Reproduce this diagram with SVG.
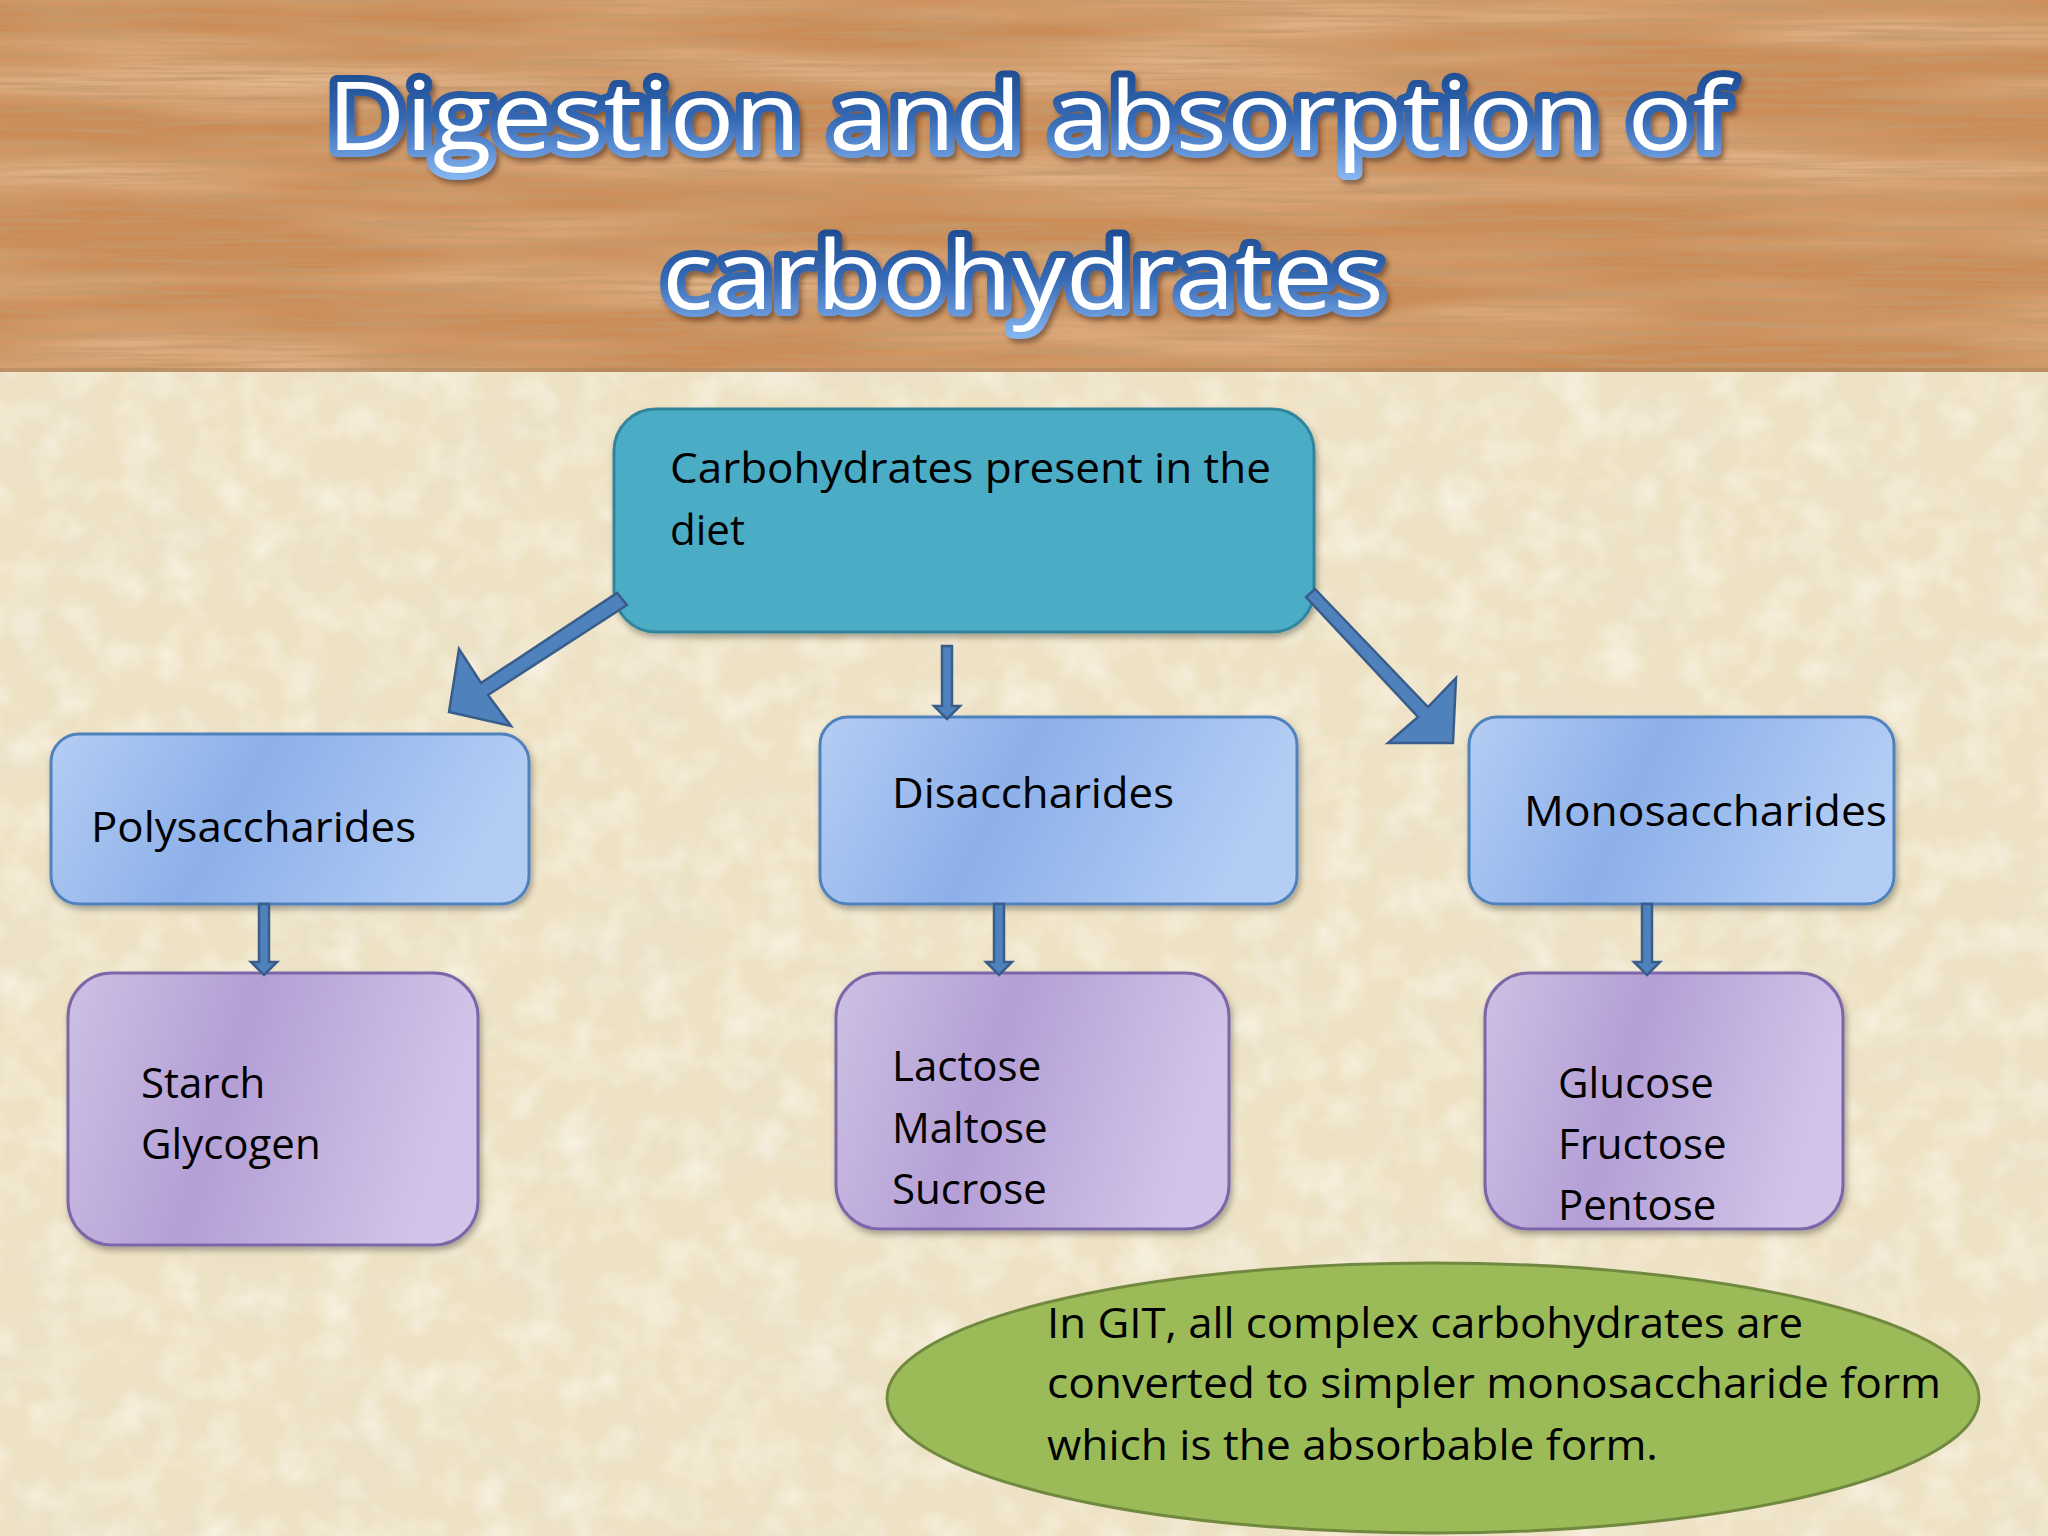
<svg xmlns="http://www.w3.org/2000/svg" width="2048" height="1536" viewBox="0 0 2048 1536">
  <defs>
    <style>
      .lbl { font-family: "Open Sans", "Liberation Sans", sans-serif; font-size: 42px; fill: #000; }
      .title { font-family: "Open Sans", "Liberation Sans", sans-serif; font-size: 96px; fill: #ffffff; stroke: url(#titleStroke); stroke-width: 14px; stroke-linejoin: round; paint-order: stroke; filter: url(#titleShadow); }
      .blue { fill: url(#blueGrad); stroke: #4f81bd; stroke-width: 3; filter: url(#shadow); }
      .purple { fill: url(#purpleGrad); stroke: #7d66a8; stroke-width: 3; filter: url(#shadow); }
      .arrow { fill: #4f81bd; stroke: #385d8a; stroke-width: 2.5; stroke-linejoin: miter; }
    </style>
    <linearGradient id="titleStroke" x1="0" y1="0" x2="0" y2="1">
      <stop offset="0" stop-color="#123f80"/>
      <stop offset="0.55" stop-color="#3569b5"/>
      <stop offset="1" stop-color="#86b6f2"/>
    </linearGradient>
    <linearGradient id="blueGrad" x1="0" y1="0" x2="1" y2="0.2">
      <stop offset="0" stop-color="#b4cdf3"/>
      <stop offset="0.45" stop-color="#8db0ea"/>
      <stop offset="1" stop-color="#b3cdf4"/>
    </linearGradient>
    <linearGradient id="purpleGrad" x1="0" y1="0" x2="1" y2="0.2">
      <stop offset="0" stop-color="#cdc0e4"/>
      <stop offset="0.45" stop-color="#b49fd6"/>
      <stop offset="1" stop-color="#d1c4e8"/>
    </linearGradient>
    <filter id="shadow" x="-10%" y="-10%" width="125%" height="130%">
      <feDropShadow dx="2" dy="4" stdDeviation="3" flood-color="#000" flood-opacity="0.3"/>
    </filter>
    <filter id="titleShadow" x="-5%" y="-20%" width="110%" height="150%">
      <feDropShadow dx="3" dy="4" stdDeviation="2.5" flood-color="#3a2410" flood-opacity="0.5"/>
    </filter>
    <filter id="woodGrain" x="0" y="0" width="100%" height="100%">
      <feTurbulence type="fractalNoise" baseFrequency="0.006 0.22" numOctaves="4" seed="7" result="n"/>
      <feColorMatrix in="n" type="matrix" values="0 0 0 0 0.55  0 0 0 0 0.32  0 0 0 0 0.15  2.2 0 0 0 -0.85"/>
    </filter>
    <filter id="woodLight" x="0" y="0" width="100%" height="100%">
      <feTurbulence type="fractalNoise" baseFrequency="0.002 0.02" numOctaves="3" seed="2" result="n"/>
      <feColorMatrix in="n" type="matrix" values="0 0 0 0 0.90  0 0 0 0 0.66  0 0 0 0 0.45  1.2 0 0 0 -0.45"/>
    </filter>
    <filter id="paper" x="0" y="0" width="100%" height="100%">
      <feTurbulence type="fractalNoise" baseFrequency="0.01" numOctaves="4" seed="11" result="n"/>
      <feColorMatrix in="n" type="matrix" values="0 0 0 0 0.82  0 0 0 0 0.75  0 0 0 0 0.58  1.3 0 0 0 -0.5"/>
    </filter>
    <filter id="paperLight" x="0" y="0" width="100%" height="100%">
      <feTurbulence type="fractalNoise" baseFrequency="0.025" numOctaves="3" seed="5" result="n"/>
      <feColorMatrix in="n" type="matrix" values="0 0 0 0 0.98  0 0 0 0 0.95  0 0 0 0 0.87  -1.3 0 0 0 0.75"/>
    </filter>
  </defs>

  <!-- background -->
  <g id="background">
    <rect x="0" y="372" width="2048" height="1164" fill="#eee2c4"/>
    <rect x="0" y="372" width="2048" height="1164" filter="url(#paper)"/>
    <rect x="0" y="372" width="2048" height="1164" filter="url(#paperLight)"/>
    <rect x="0" y="0" width="2048" height="372" fill="#cb8c57"/>
    <rect x="0" y="0" width="2048" height="372" filter="url(#woodLight)"/>
    <rect x="0" y="0" width="2048" height="372" filter="url(#woodGrain)"/>
    <rect x="0" y="368" width="2048" height="4" fill="#a8845e" opacity="0.5"/>
  </g>

  <!-- title -->
  <g id="title">
    <text class="title" x="1028" y="150" text-anchor="middle" textLength="1402" lengthAdjust="spacingAndGlyphs">Digestion and absorption of</text>
    <text class="title" x="1023" y="309" text-anchor="middle" textLength="722" lengthAdjust="spacingAndGlyphs">carbohydrates</text>
  </g>

  <!-- nodes -->
  <g id="node-diet">
    <rect x="614" y="409" width="700" height="223" rx="42" fill="#4bacc6" stroke="#31849b" stroke-width="3" filter="url(#shadow)"/>
    <text class="lbl" x="670" y="483" textLength="601" lengthAdjust="spacingAndGlyphs">Carbohydrates present in the</text>
    <text class="lbl" x="670" y="545">diet</text>
  </g>

  <g id="node-polysaccharides">
    <rect class="blue" x="51" y="734" width="478" height="170" rx="28"/>
    <text class="lbl" x="91" y="842" textLength="325" lengthAdjust="spacingAndGlyphs">Polysaccharides</text>
  </g>

  <g id="node-disaccharides">
    <rect class="blue" x="820" y="717" width="477" height="187" rx="28"/>
    <text class="lbl" x="892" y="808" textLength="282" lengthAdjust="spacingAndGlyphs">Disaccharides</text>
  </g>

  <g id="node-monosaccharides">
    <rect class="blue" x="1469" y="717" width="425" height="187" rx="28"/>
    <text class="lbl" x="1524" y="826" textLength="363" lengthAdjust="spacingAndGlyphs">Monosaccharides</text>
  </g>

  <g id="node-starch-glycogen">
    <rect class="purple" x="68" y="973" width="410" height="272" rx="44"/>
    <text class="lbl" x="141" y="1098">Starch</text>
    <text class="lbl" x="141" y="1159">Glycogen</text>
  </g>

  <g id="node-lactose-maltose-sucrose">
    <rect class="purple" x="836" y="973" width="393" height="256" rx="44"/>
    <text class="lbl" x="892" y="1081">Lactose</text>
    <text class="lbl" x="892" y="1143">Maltose</text>
    <text class="lbl" x="892" y="1204">Sucrose</text>
  </g>

  <g id="node-glucose-fructose-pentose">
    <rect class="purple" x="1485" y="973" width="358" height="256" rx="44"/>
    <text class="lbl" x="1558" y="1098">Glucose</text>
    <text class="lbl" x="1558" y="1159">Fructose</text>
    <text class="lbl" x="1558" y="1220">Pentose</text>
  </g>

  <g id="node-note">
    <ellipse cx="1433" cy="1398" rx="546" ry="135" fill="#9bbb59" stroke="#71893f" stroke-width="3"/>
    <text class="lbl" x="1047" y="1338" textLength="756" lengthAdjust="spacingAndGlyphs">In GIT, all complex carbohydrates are</text>
    <text class="lbl" x="1047" y="1398" textLength="894" lengthAdjust="spacingAndGlyphs">converted to simpler monosaccharide form</text>
    <text class="lbl" x="1047" y="1460" textLength="611" lengthAdjust="spacingAndGlyphs">which is the absorbable form.</text>
  </g>

  <!-- connectors -->
  <g id="connectors">
    <polygon class="arrow" points="617,593 627,605 488,695 511,726 449,712 459,649 481,683"/>
    <polygon class="arrow" points="1315,589 1428,707 1456,678 1453,743 1388,743 1418,717 1306,597"/>
    <path class="arrow" d="M942,646 H952 V706 H960 L947,719 L934,706 H942 Z"/>
    <path class="arrow" d="M259,904 H269 V962 H277 L264,975 L251,962 H259 Z"/>
    <path class="arrow" d="M994,904 H1004 V962 H1012 L999,975 L986,962 H994 Z"/>
    <path class="arrow" d="M1642,904 H1652 V962 H1660 L1647,975 L1634,962 H1642 Z"/>
  </g>
</svg>
